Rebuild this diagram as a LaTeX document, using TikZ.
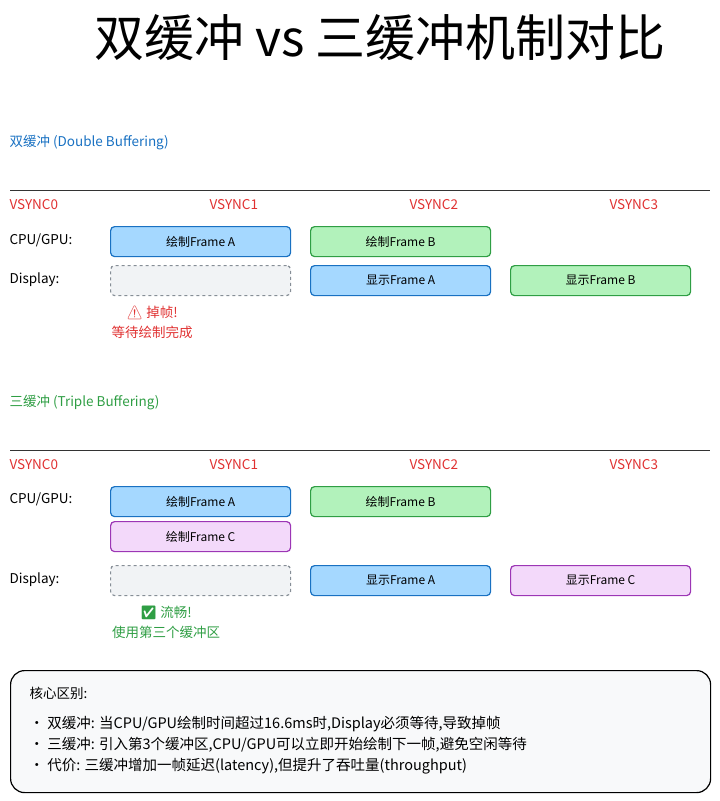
\documentclass[tikz,border=0pt]{standalone}
\usepackage{fontspec}
\setmainfont{Noto Sans CJK SC}
\newfontfamily\emo{Noto Emoji}
\begin{document}
\begin{tikzpicture}[x=1pt,y=-1pt,
  box/.style={draw,rounded corners=4pt,line width=1.2pt,minimum width=180pt,minimum height=30pt,font=\fontsize{12}{14}\selectfont,anchor=north west},
  bl/.style={box,fill={rgb,255:red,165;green,216;blue,255},draw={rgb,255:red,25;green,113;blue,194}},
  gr/.style={box,fill={rgb,255:red,178;green,242;blue,187},draw={rgb,255:red,47;green,158;blue,68}},
  pu/.style={box,fill={rgb,255:red,243;green,217;blue,250},draw={rgb,255:red,156;green,54;blue,181}},
  em/.style={box,dashed,fill={rgb,255:red,241;green,243;blue,245},draw={rgb,255:red,134;green,142;blue,150}},
  lab/.style={anchor=west,font=\fontsize{13.5}{15}\selectfont},
  big/.style={anchor=west,font=\fontsize{14.5}{16}\selectfont},
  vs/.style={anchor=west,font=\fontsize{13.5}{15}\selectfont,text={rgb,255:red,224;green,49;blue,49}}]
\definecolor{myred}{RGB}{224,49,49}
\definecolor{myblue}{RGB}{25,113,194}
\definecolor{mygreen}{RGB}{47,158,68}
\useasboundingbox (0,0) rectangle (720,801);
\node (title) at (380,38) {\fontsize{50}{54}\selectfont 双缓冲 vs 三缓冲机制对比};
\node[lab,text=myblue] (h1) at (6,143) {双缓冲 (Double Buffering)};
\coordinate (l1a) at (10,190); \coordinate (l1b) at (710,190);
\draw[line width=1pt,black!80] (l1a) -- (l1b);
\foreach \i/\x in {0/6,1/206,2/406,3/606}{\node[vs] (va\i) at (\x,205) {VSYNC\i};}
\node[lab] (cpu1) at (6,240) {CPU/GPU:};
\node[lab] (dis1) at (6,280) {Display:};
\node[bl] (a1) at (110,226) {绘制Frame A};
\node[gr] (a2) at (310,226) {绘制Frame B};
\node[em] (a3) at (110,265) {};
\node[bl] (a4) at (310,265) {显示Frame A};
\node[gr] (a5) at (510,265) {显示Frame B};
\node[text=myred,font=\fontsize{13.5}{15}\selectfont] (w1) at (152,313) {{\emo ⚠} 掉帧!};
\node[text=myred,font=\fontsize{13.5}{15}\selectfont] (w2) at (152,332) {等待绘制完成};
\node[lab,text=mygreen] (h2) at (6,403) {三缓冲 (Triple Buffering)};
\coordinate (l2a) at (10,450); \coordinate (l2b) at (710,450);
\draw[line width=1pt,black!80] (l2a) -- (l2b);
\foreach \i/\x in {0/6,1/206,2/406,3/606}{\node[vs] (vb\i) at (\x,465) {VSYNC\i};}
\node[lab] (cpu2) at (6,499) {CPU/GPU:};
\node[lab] (dis2) at (6,580) {Display:};
\node[bl] (b1) at (110,486) {绘制Frame A};
\node[gr] (b2) at (310,486) {绘制Frame B};
\node[pu] (b3) at (110,521) {绘制Frame C};
\node[em] (b4) at (110,565) {};
\node[bl] (b5) at (310,565) {显示Frame A};
\node[pu] (b6) at (510,565) {显示Frame C};
\node[text=mygreen,font=\fontsize{13.5}{15}\selectfont] (s1) at (166,613) {{\emo ✅} 流畅!};
\node[text=mygreen,font=\fontsize{13.5}{15}\selectfont] (s2) at (166,632) {使用第三个缓冲区};
\node[draw,line width=1.2pt,rounded corners=14pt,fill={rgb,255:red,248;green,249;blue,250},minimum width=700pt,minimum height=122pt,anchor=north west] (sum) at (10,670) {};
\node[lab] (k0) at (26,693) {核心区别:};
\node[big] (k1) at (26,724) {• 双缓冲: 当CPU/GPU绘制时间超过16.6ms时,Display必须等待,导致掉帧};
\node[big] (k2) at (26,745) {• 三缓冲: 引入第3个缓冲区,CPU/GPU可以立即开始绘制下一帧,避免空闲等待};
\node[big] (k3) at (26,766) {• 代价: 三缓冲增加一帧延迟(latency),但提升了吞吐量(throughput)};
\end{tikzpicture}
\end{document}
